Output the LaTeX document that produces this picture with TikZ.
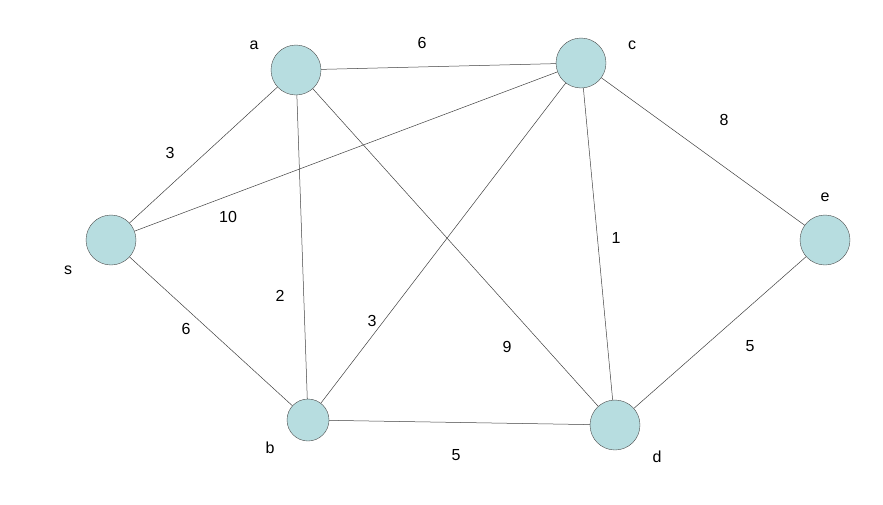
\documentclass[tikz,border=0pt]{standalone}
\usepackage{fontspec}
\setmainfont{Liberation Sans}
\begin{document}
\begin{tikzpicture}[x=1pt,y=-1pt,
  vert/.style={circle,draw=black!70,fill={rgb,255:red,183;green,221;blue,224},inner sep=0pt},
  big/.style={vert,minimum size=50pt},
  small/.style={vert,minimum size=42pt},
  lbl/.style={font=\fontsize{16}{18}\selectfont,inner sep=0pt},
  edge/.style={draw=black!75,line width=0.5pt}]
\useasboundingbox (0,0) rectangle (883,504);
\node[big] (a) at (296,70) {};
\node[big] (c) at (581,63) {};
\node[big] (s) at (111,240) {};
\node[big] (e) at (825,240) {};
\node[small] (b) at (308,420) {};
\node[big] (d) at (615,425) {};
\node[lbl] (la) at (254,45) {a};
\node[lbl] (lc) at (632,45) {c};
\node[lbl] (ls) at (68,270) {s};
\node[lbl] (le) at (825,197) {e};
\node[lbl] (lb) at (270,448) {b};
\node[lbl] (ld) at (657,457) {d};
\draw[edge] (s) -- (a);
\draw[edge] (s) -- (c);
\draw[edge] (s) -- (b);
\draw[edge] (a) -- (c);
\draw[edge] (a) -- (b);
\draw[edge] (a) -- (d);
\draw[edge] (c) -- (b);
\draw[edge] (c) -- (d);
\draw[edge] (c) -- (e);
\draw[edge] (b) -- (d);
\draw[edge] (e) -- (d);
\node[lbl] (w1) at (422,43) {6};
\node[lbl] (w2) at (170,153) {3};
\node[lbl] (w3) at (228,217) {10};
\node[lbl] (w4) at (724,120) {8};
\node[lbl] (w5) at (616,238) {1};
\node[lbl] (w6) at (280,296) {2};
\node[lbl] (w7) at (372,321) {3};
\node[lbl] (w8) at (507,347) {9};
\node[lbl] (w9) at (186,329) {6};
\node[lbl] (w10) at (750,346) {5};
\node[lbl] (w11) at (456,455) {5};
\end{tikzpicture}
\end{document}
